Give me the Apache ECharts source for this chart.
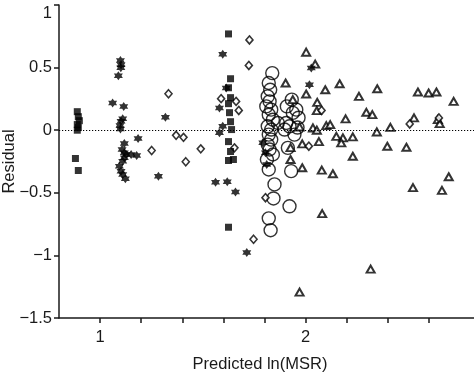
<!DOCTYPE html>
<html>
<head>
<meta charset="utf-8">
<script src="https://cdn.jsdelivr.net/npm/echarts@6/dist/echarts.min.js"></script>
<style>
html,body{margin:0;padding:0;background:#fff;}
#chart{width:474px;height:372px;}
</style>
</head>
<body>
<div id="chart"></div>
<script>
// ---- data (x = predicted ln(MSR), y = residual) ----
var squarePts = [
  [0.889,0.148],[0.894,0.108],[0.899,0.076],[0.889,0.045],[0.894,0.021],[0.889,0.0],
  [0.880,-0.226],[0.894,-0.322],
  [1.625,0.769],[1.635,0.411],[1.625,0.339],[1.635,0.260],[1.625,0.212],[1.630,0.140],
  [1.635,0.068],[1.640,0.005],[1.625,-0.091],[1.635,-0.170],[1.625,-0.242],[1.649,-0.234],
  [1.625,-0.775]
];
var starPts = [
  [1.099,0.557],[1.102,0.522],[1.101,0.498],[1.089,0.435],[1.061,0.217],[1.115,0.190],
  [1.110,0.092],[1.102,0.071],[1.097,0.037],[1.099,0.010],[1.185,-0.067],[1.118,-0.107],
  [1.107,-0.154],[1.118,-0.181],[1.127,-0.194],[1.151,-0.194],[1.178,-0.202],[1.118,-0.221],
  [1.110,-0.248],[1.094,-0.287],[1.102,-0.327],[1.110,-0.354],[1.123,-0.388],[1.284,-0.367],
  [1.318,0.103],[1.562,-0.415],
  [1.597,0.607],[1.614,0.337],[1.581,0.178],[1.597,0.031],[1.581,-0.021],[1.619,-0.412],
  [1.659,-0.494],[1.714,-0.977],[1.792,-0.101],[1.805,-0.181],[1.811,-0.274],
  [2.028,0.496],[2.019,0.363]
];
var diamondPts = [
  [1.333,0.291],[1.251,-0.162],[1.370,-0.041],[1.406,-0.057],[1.417,-0.252],[1.490,-0.149],
  [1.727,0.721],[1.724,0.517],[1.589,0.252],[1.662,0.230],[1.675,0.158],[1.654,-0.141],
  [1.747,-0.871],[1.805,-0.539],[2.016,-0.128],[2.507,0.050],[2.649,0.098],[2.078,0.158]
];
var circlePts = [
  [1.838,0.456],[1.821,0.377],[1.828,0.323],[1.816,0.270],[1.825,0.230],[1.809,0.190],
  [1.833,0.164],[1.821,0.124],[1.841,0.084],[1.816,0.031],[1.833,0.005],[1.821,-0.035],
  [1.833,-0.075],[1.816,-0.115],[1.825,-0.154],[1.841,-0.194],[1.812,-0.234],[1.821,-0.314],
  [1.849,-0.433],[1.844,-0.545],[1.922,-0.608],[1.821,-0.704],[1.830,-0.799],
  [1.909,0.190],[1.938,0.138],[1.955,0.164],[1.906,0.058],[1.922,0.031],[1.946,-0.035],
  [1.914,-0.141],[1.930,-0.327],[1.865,0.058],[1.933,0.244],[1.966,0.100],[1.898,0.005],
  [1.961,0.021]
];
var trianglePts = [
  [2.003,0.623],[2.047,0.528],[1.903,0.377],[2.003,0.289],[2.096,0.323],[2.166,0.371],
  [2.349,0.331],[2.260,0.270],[2.547,0.305],[2.599,0.297],[2.637,0.305],[2.721,0.230],
  [2.057,0.222],[1.938,0.244],[2.055,0.156],[2.296,0.143],[2.325,0.124],[2.195,0.090],
  [2.528,0.098],[2.644,0.084],[2.653,0.053],[2.101,0.037],[2.120,0.045],[2.036,0.018],
  [2.055,0.0],[1.971,0.026],[2.413,0.023],[2.347,-0.014],[2.150,-0.049],[2.182,-0.061],
  [2.230,-0.053],[2.174,-0.101],[1.984,-0.109],[2.065,-0.091],[2.398,-0.128],[2.491,-0.136],
  [2.230,-0.208],[1.984,-0.300],[2.079,-0.319],[2.133,-0.348],[2.697,-0.372],[2.523,-0.459],
  [2.664,-0.481],[2.081,-0.666],[2.317,-1.110],[1.971,-1.293],[1.927,-0.139],[1.927,-0.234]
];
var xTickValues = [1.0,1.2,1.4,1.6,1.8,2.0,2.2,2.4,2.6];
var xLabelValues = [1,2];

var starPath = 'path://M10 0 L13 5 L18.66 5 L16 10 L18.66 15 L13 15 L10 20 L7 15 L1.34 15 L4 10 L1.34 5 L7 5 Z';
var fontFam = 'Liberation Sans, Arial, sans-serif';
var ink = '#1a1a1a';

var chart = echarts.init(document.getElementById('chart'), null, {renderer:'canvas'});
chart.setOption({
  animation:false,
  backgroundColor:'#fff',
  grid:{left:59, right:0, top:5, bottom:54, containLabel:false, outerBoundsMode:'none'},
  xAxis:{
    type:'value', min:0.8, max:2.82,
    name:'Predicted ln(MSR)', nameLocation:'middle', nameGap:38, nameMoveOverlap:false,
    nameTextStyle:{fontFamily:fontFam, fontSize:16.5, color:ink, padding:[0,13,0,0]},
    axisLine:{show:true, onZero:false, lineStyle:{color:ink, width:1.5}},
    axisTick:{show:true, length:5, customValues:xTickValues, lineStyle:{color:ink, width:1.5}},
    axisLabel:{show:true, customValues:xLabelValues, margin:11, fontFamily:fontFam, fontSize:16.5, color:ink,
      formatter:function(v){return String(Math.round(v));}},
    splitLine:{show:false}
  },
  yAxis:{
    type:'value', min:-1.5, max:1, interval:0.5,
    name:'Residual', nameLocation:'middle', nameGap:41, nameRotate:90, nameMoveOverlap:false,
    nameTextStyle:{fontFamily:fontFam, fontSize:16.5, color:ink},
    axisLine:{show:true, onZero:false, lineStyle:{color:ink, width:1.5}},
    axisTick:{show:true, length:5, lineStyle:{color:ink, width:1.5}},
    axisLabel:{margin:7, fontFamily:fontFam, fontSize:16.5, color:ink, verticalAlignMaxLabel:'top',
      formatter:function(v){return v<0 ? '\u2212'+Math.abs(v) : String(v);}},
    splitLine:{show:false}
  },
  series:[
    {type:'scatter', name:'circles', data:circlePts, symbol:'circle', symbolSize:13,
     itemStyle:{color:'rgba(0,0,0,0)', borderColor:'#000', borderWidth:1.4},
     markLine:{silent:true, symbol:'none', label:{show:false},
       lineStyle:{color:'#000', type:[1.2,1.8], width:1.2, opacity:1},
       emphasis:{disabled:true},
       data:[{yAxis:0}]}},
    {type:'scatter', name:'triangles', data:trianglePts, symbol:'triangle', symbolSize:[8,7],
     itemStyle:{color:'#fff', borderColor:'#000', borderWidth:2}},
    {type:'scatter', name:'diamonds', data:diamondPts, symbol:'diamond', symbolSize:[7,8],
     itemStyle:{color:'#fff', borderColor:'#000', borderWidth:1.6}},
    {type:'scatter', name:'stars', data:starPts, symbol:starPath, symbolSize:9,
     itemStyle:{color:'#000'}},
    {type:'scatter', name:'squares', data:squarePts, symbol:'rect', symbolSize:7,
     itemStyle:{color:'#000'}}
  ]
});
</script>
</body>
</html>
